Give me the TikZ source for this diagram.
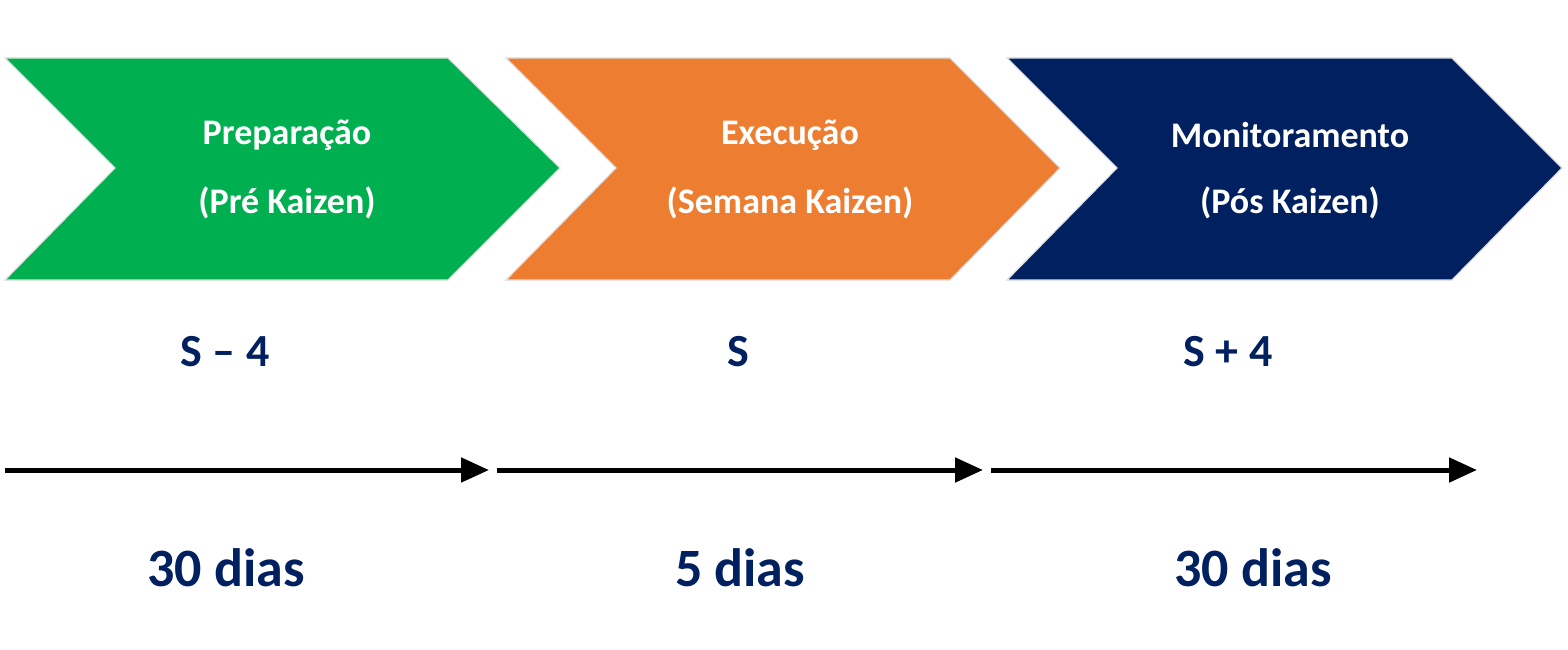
\documentclass[tikz,border=0pt]{standalone}
\usepackage{fontspec}
\setmainfont{Carlito}
\usetikzlibrary{arrows.meta}
\definecolor{cgreen}{HTML}{00B050}
\definecolor{corange}{HTML}{ED7D31}
\definecolor{cnavy}{HTML}{002060}
\begin{document}
\begin{tikzpicture}[x=1pt,y=-1pt,
  chev/.style={draw=black!12,line width=1.2pt},
  ctext/.style={text=white,font=\bfseries\fontsize{36}{44}\selectfont,align=center},
  stext/.style={text=cnavy,font=\bfseries\fontsize{46}{50}\selectfont},
  dtext/.style={text=cnavy,font=\bfseries\fontsize{54}{60}\selectfont},
  tl/.style={line width=5pt,-{Triangle[length=28pt,width=24pt]}}]
\useasboundingbox (0,0) rectangle (1568,650);
\fill[white] (0,0) rectangle (1568,650);
\draw[chev,fill=cgreen] (5,58)--(448,58)--(560,168)--(448,280)--(5,280)--(115,168)--cycle;
\draw[chev,fill=corange] (506,58)--(950,58)--(1060,168)--(950,280)--(506,280)--(616,168)--cycle;
\draw[chev,fill=cnavy] (1007,58)--(1452,58)--(1562,168)--(1452,280)--(1007,280)--(1117,168)--cycle;
\node[ctext] (p1) at (287,135) {Preparação};
\node[ctext] (p2) at (287,203) {(Pré Kaizen)};
\node[ctext] (e1) at (790,135) {Execução};
\node[ctext] (e2) at (790,203) {(Semana Kaizen)};
\node[ctext] (m1) at (1290,135) {Monitoramento};
\node[ctext] (m2) at (1290,203) {(Pós Kaizen)};
\node[stext] (s1) at (225,352) {S – 4};
\node[stext] (s2) at (738,352) {S};
\node[stext] (s3) at (1228,352) {S + 4};
\coordinate (a0) at (5,470); \coordinate (a1) at (489,470);
\coordinate (b0) at (497,470); \coordinate (b1) at (983,470);
\coordinate (c0) at (991,470); \coordinate (c1) at (1477,470);
\draw[tl] (a0)--(a1);
\draw[tl] (b0)--(b1);
\draw[tl] (c0)--(c1);
\node[dtext] (d1) at (226,568) {30 dias};
\node[dtext] (d2) at (740,568) {5 dias};
\node[dtext] (d3) at (1253,568) {30 dias};
\end{tikzpicture}
\end{document}
